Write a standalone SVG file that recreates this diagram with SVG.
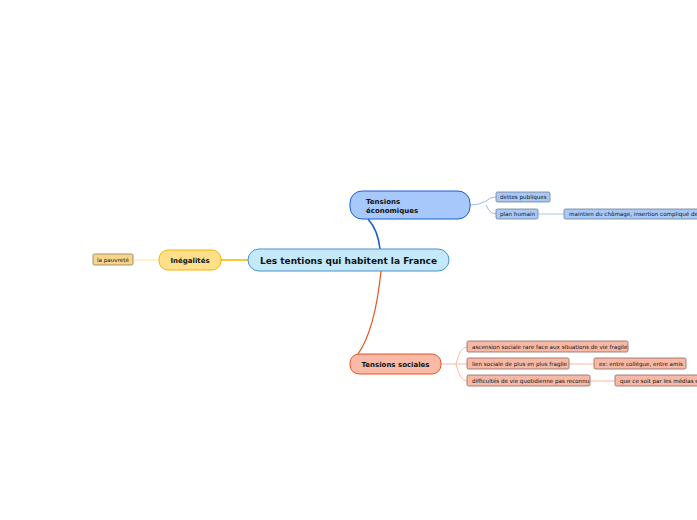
<svg xmlns="http://www.w3.org/2000/svg" width="697" height="520" viewBox="0 0 697 520">
<style>
text{font-family:Verdana,"DejaVu Sans",sans-serif;fill:#111}
.b{font-weight:bold}
.leaf{font-size:5.6px}
.eco{fill:#a9c8f5;stroke:#6a7d98;stroke-width:0.8}
.soc{fill:#f7b8a6;stroke:#8a6a60;stroke-width:0.8}
path{fill:none}
</style>
<rect width="697" height="520" fill="#fff"/>
<g id="connectors">
<path d="M380,249 Q378,230 368,219" stroke="#1a5fd0" stroke-width="1.6"/>
<path d="M381,271 Q375,330 358,354" stroke="#e8501e" stroke-width="1.2"/>
<path d="M221,260 L248,260" stroke="#f5b400" stroke-width="1.5"/>
<path d="M133,260 L159,260" stroke="#ffe3a0" stroke-width="1"/>
<path d="M470,205 Q480,205 486,201 Q490,197 496,197 M486,205 Q490,214 496,214" stroke="#7ea9e8" stroke-width="0.8"/>
<path d="M538,214 L564,214" stroke="#a9c8f5" stroke-width="1"/>
<path d="M441,364 L456,364 Q460,347 467,347 M456,364 L467,364 M456,364 Q460,381 467,381" stroke="#f7b8a6" stroke-width="1"/>
<path d="M569,364 L594,364 M590,381 L615,381" stroke="#f7b8a6" stroke-width="1"/>
</g>
<g id="central">
<rect x="248" y="249" width="201" height="22" rx="11" fill="#c4e9fb" stroke="#4a90d0" stroke-width="1"/>
<text x="348.5" y="264" text-anchor="middle" class="b" font-size="9">Les tentions qui habitent la France</text>
</g>
<g id="eco">
<rect x="350" y="191" width="120" height="28" rx="12" fill="#a6c8fb" stroke="#1a5fd0" stroke-width="1"/>
<text x="366" y="204" class="b" font-size="7">Tensions</text>
<text x="366" y="213" class="b" font-size="7">économiques</text>
</g>
<g id="dettes"><rect x="496" y="192" width="54" height="10" rx="1.5" class="eco"/><text x="500" y="199" class="leaf">dettes publiques</text></g>
<g id="plan"><rect x="496" y="209" width="42" height="10" rx="1.5" class="eco"/><text x="500" y="216" class="leaf">plan humain</text></g>
<g id="maintien"><rect x="564" y="209" width="140" height="10" rx="1.5" class="eco"/><text x="569" y="216" class="leaf">maintien du chômage, insertion compliqué des jeunes</text></g>
<g id="inegalites">
<rect x="159" y="250" width="62" height="20" rx="9" fill="#ffdf8a" stroke="#f5b400" stroke-width="1"/>
<text x="190" y="263" text-anchor="middle" class="b" font-size="7">Inégalités</text>
</g>
<g id="pauvrete"><rect x="93" y="254" width="40" height="11" rx="1.5" fill="#f8d58a" stroke="#8a7a5a" stroke-width="0.8"/><text x="113" y="261.5" text-anchor="middle" class="leaf">la pauvreté</text></g>
<g id="sociales">
<rect x="350" y="354" width="91" height="20" rx="9" fill="#f9bba8" stroke="#e8501e" stroke-width="1"/>
<text x="395.5" y="367" text-anchor="middle" class="b" font-size="7">Tensions sociales</text>
</g>
<g id="ascension"><rect x="467" y="341" width="161" height="11" rx="1.5" class="soc"/><text x="472" y="348.5" class="leaf">ascension sociale rare face aux situations de vie fragile</text></g>
<g id="lien"><rect x="467" y="358" width="102" height="11" rx="1.5" class="soc"/><text x="472" y="365.5" class="leaf">lien sociale de plus en plus fragile</text></g>
<g id="ex"><rect x="594" y="358" width="92" height="11" rx="1.5" class="soc"/><text x="599" y="365.5" class="leaf">ex: entre collègue, entre amis</text></g>
<g id="difficultes"><rect x="467" y="375" width="123" height="11" rx="1.5" class="soc"/><text x="472" y="382.5" class="leaf">difficultés de vie quotidienne pas reconnu</text></g>
<g id="quecesoit"><rect x="615" y="375" width="120" height="11" rx="1.5" class="soc"/><text x="620" y="382.5" class="leaf">que ce soit par les médias et les politiques</text></g>
</svg>
